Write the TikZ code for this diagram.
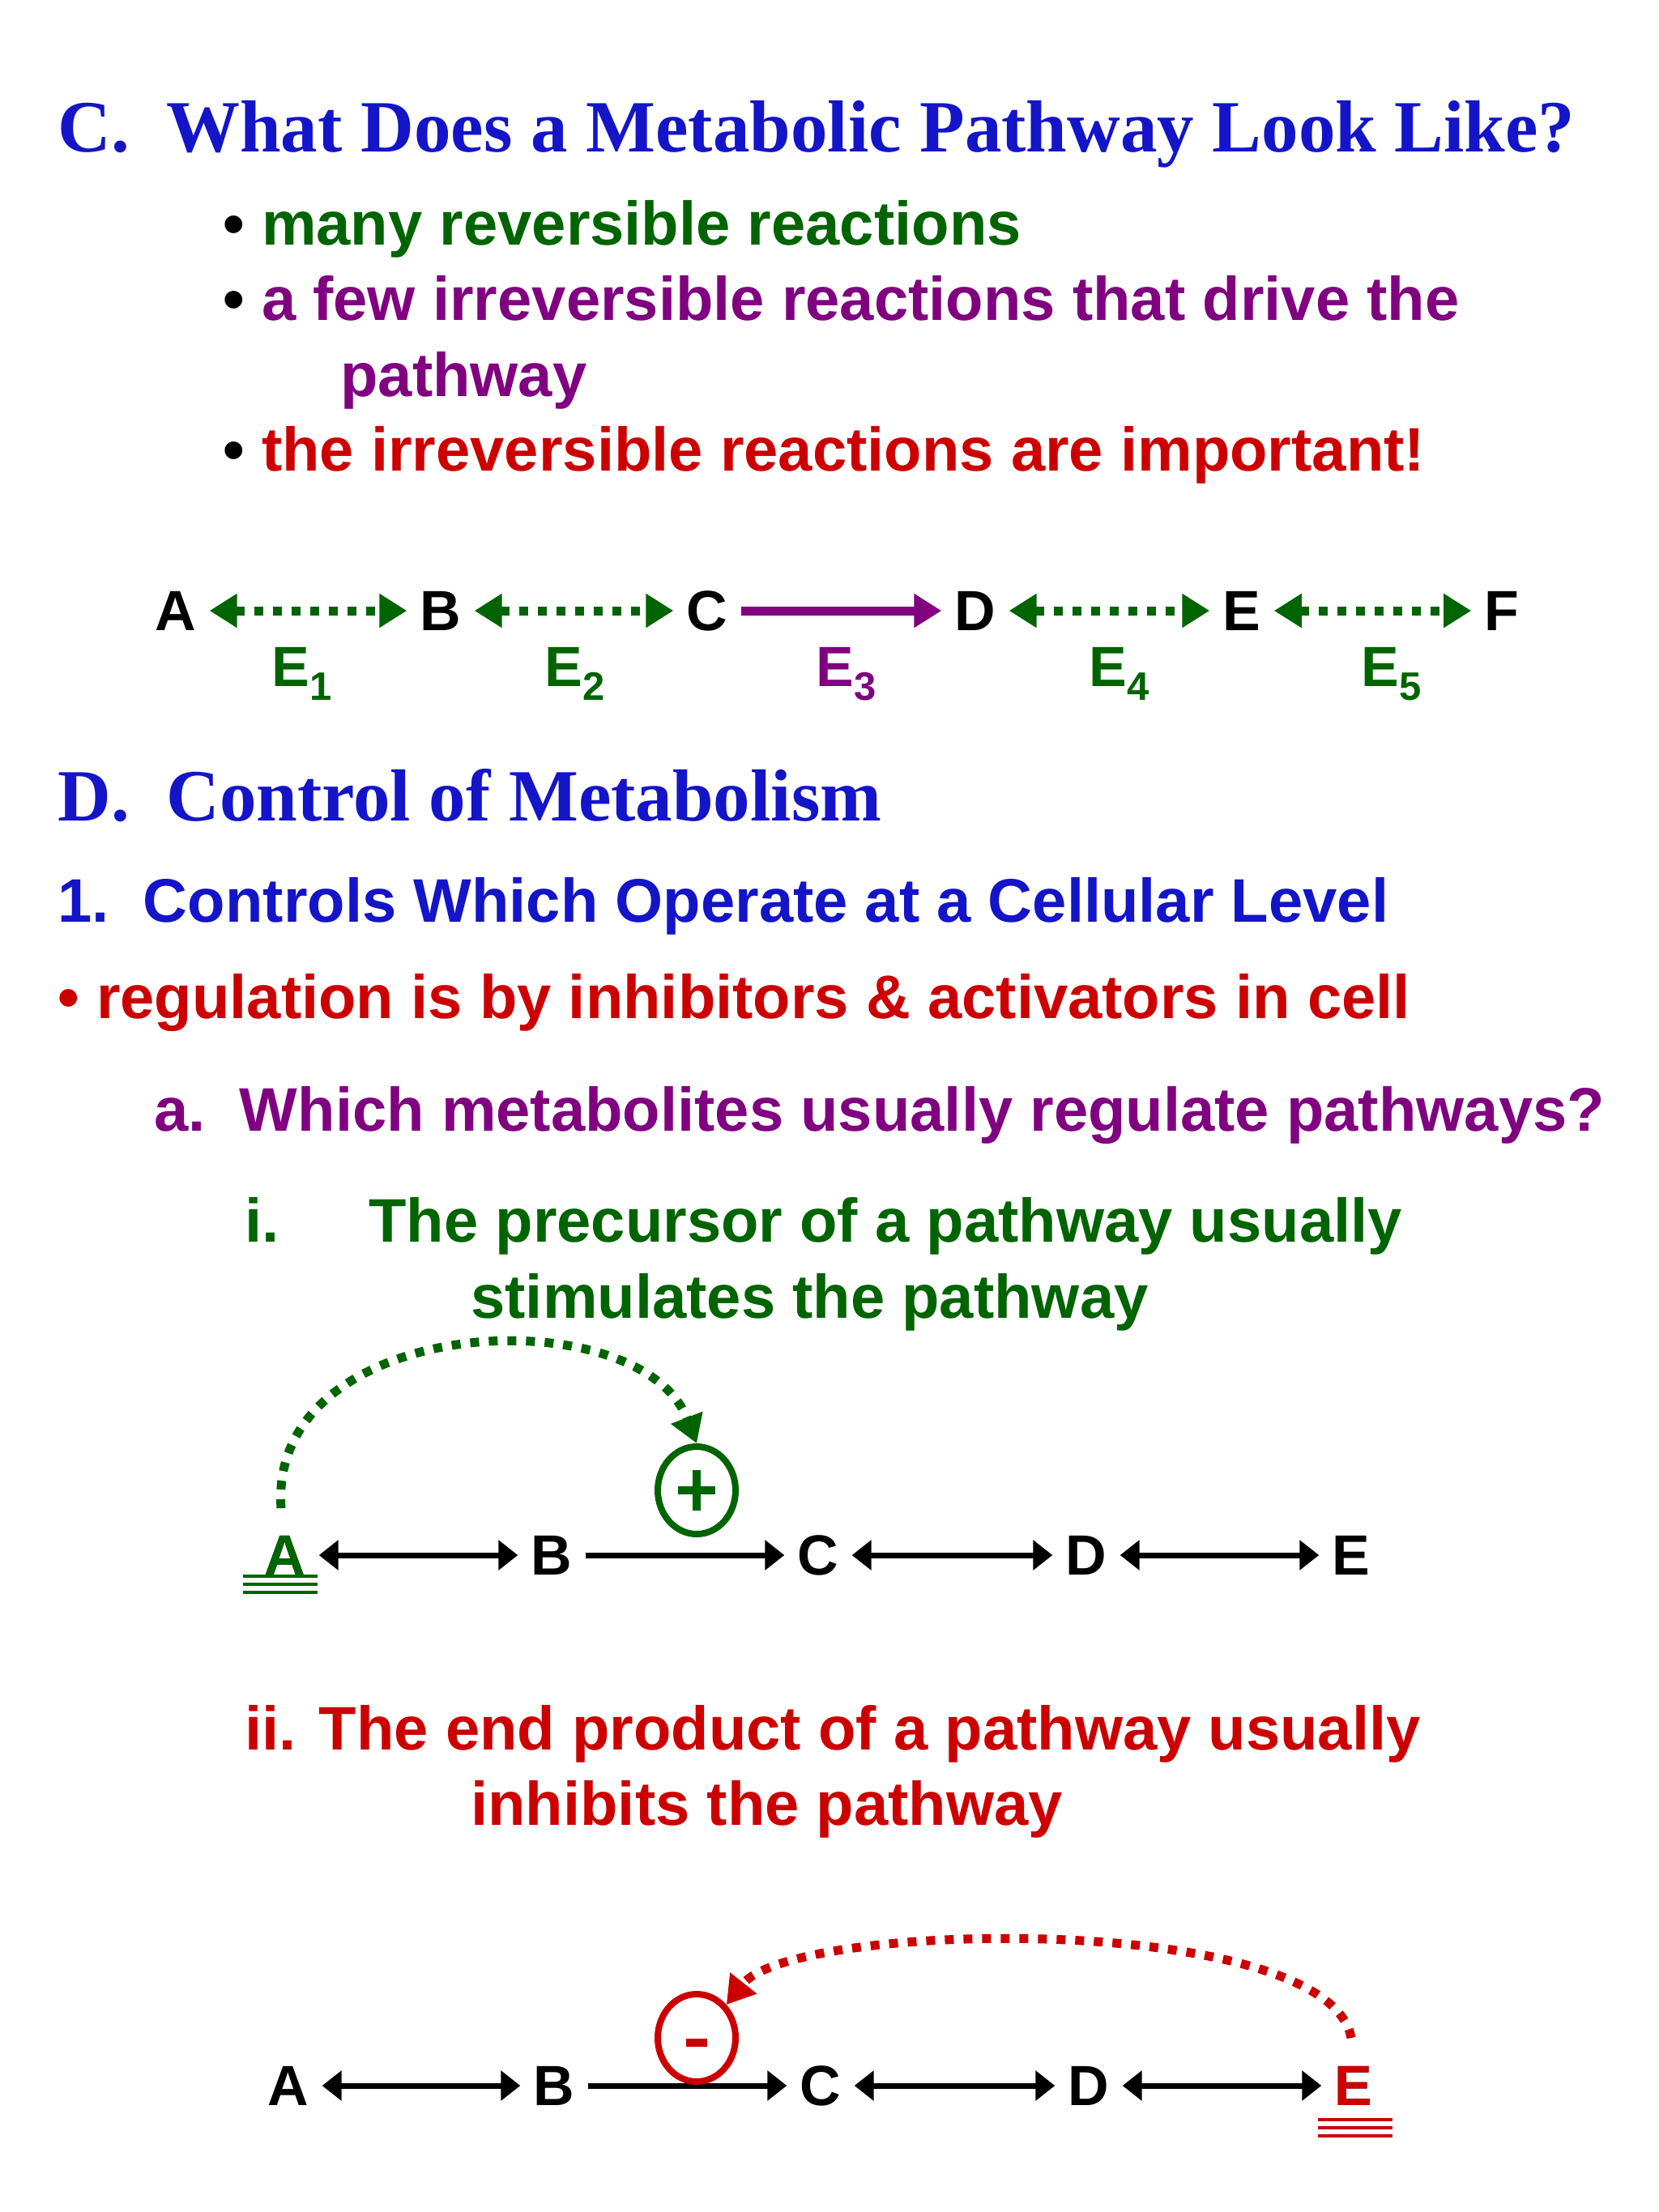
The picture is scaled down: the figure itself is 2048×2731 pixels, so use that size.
\documentclass[tikz,border=0pt]{standalone}
\usepackage{fontspec}
\setmainfont{Liberation Serif}
\setsansfont{Liberation Sans}
\usetikzlibrary{arrows.meta,shapes.geometric}
\definecolor{tblue}{RGB}{20,20,200}
\definecolor{tgreen}{RGB}{0,100,0}
\definecolor{tpurple}{RGB}{128,0,128}
\definecolor{tred}{RGB}{204,0,0}
\tikzset{
 hd/.style={anchor=base west,inner sep=0,font=\fontsize{45.5}{54}\selectfont\bfseries\rmfamily,text=tblue},
 tx/.style={anchor=base west,inner sep=0,font=\fontsize{38}{46}\selectfont\bfseries\sffamily},
 lt/.style={inner xsep=8pt,inner ysep=2pt,font=\fontsize{35}{42}\selectfont\bfseries\sffamily},
 el/.style={inner sep=0,font=\fontsize{35}{42}\selectfont\bfseries\sffamily},
 rev/.style={tgreen,line width=5.5pt,dash pattern=on 5.5pt off 6pt,{Triangle[length=17pt,width=20pt]}-{Triangle[length=17pt,width=20pt]}},
 irr/.style={tpurple,line width=5.5pt,-{Triangle[length=17pt,width=20pt]}},
 bk/.style={black,line width=3.5pt,-{Triangle[length=12pt,width=18pt]}},
 bkk/.style={black,line width=3.5pt,{Triangle[length=12pt,width=18pt]}-{Triangle[length=12pt,width=18pt]}},
 ring/.style={ellipse,draw,line width=4pt,minimum width=48pt,minimum height=54pt,inner sep=0},
}
\begin{document}
\begin{tikzpicture}[x=0.5pt,y=-0.5pt]
\useasboundingbox[fill=white] (0,0) rectangle (2048,2731);
% C
\node[hd] (hc) at (71,187) {C.\ \ What Does a Metabolic Pathway Look Like?};
\node[tx] (b1) at (275,302) {• \textcolor{tgreen}{many reversible reactions}};
\node[tx] (b2) at (275,395) {• \textcolor{tpurple}{a few irreversible reactions that drive the}};
\node[tx,text=tpurple] (b2b) at (420,489) {pathway};
\node[tx] (b3) at (275,581) {• \textcolor{tred}{the irreversible reactions are important!}};
% pathway 1
\foreach \n/\x in {A/217,B/544,C/873,D/1204,E/1533,F/1854}{\node[lt] (p\n) at (\x,754) {\n};}
\draw[rev] (pA) -- (pB);
\draw[rev] (pB) -- (pC);
\draw[irr] (pC) -- (pD);
\draw[rev] (pD) -- (pE);
\draw[rev] (pE) -- (pF);
\node[el,text=tgreen] (e1) at (373,832) {E\textsubscript{1}};
\node[el,text=tgreen] (e2) at (710,832) {E\textsubscript{2}};
\node[el,text=tpurple] (e3) at (1045,832) {E\textsubscript{3}};
\node[el,text=tgreen] (e4) at (1382,832) {E\textsubscript{4}};
\node[el,text=tgreen] (e5) at (1718,832) {E\textsubscript{5}};
% D
\node[hd] (hd1) at (71,1013) {D.\ \ Control of Metabolism};
\node[tx,text=tblue] (d1) at (71,1138) {1.\ \ Controls Which Operate at a Cellular Level};
\node[tx,text=tred] (d2) at (71,1257) {• regulation is by inhibitors \& activators in cell};
\node[tx,text=tpurple] (d3) at (190,1396) {a.\ \ Which metabolites usually regulate pathways?};
\node[tx,text=tgreen] (d4) at (302,1533) {i.};
\node[tx,text=tgreen] (d5) at (455,1533) {The precursor of a pathway usually};
\node[tx,text=tgreen] (d6) at (581,1627) {stimulates the pathway};
% diagram i
\foreach \n/\x in {A/352,B/681,C/1010,D/1341,E/1668}{\node[lt] (q\n) at (\x,1920) {\n};}
\node[lt,text=tgreen] at (qA) {A};
\draw[bkk] (qA) -- (qB);
\draw[bk] (qB) -- (qC);
\draw[bkk] (qC) -- (qD);
\draw[bkk] (qD) -- (qE);
\foreach \y in {1946,1956,1966}{\draw[tgreen,line width=2.2pt] (300,\y) -- (392,\y);}
\node[ring,draw=tgreen] (plus) at (860,1840) {};
\draw[tgreen,line width=5pt] (860,1815) -- (860,1865) (837,1840) -- (883,1840);
\draw[tgreen,line width=5.5pt,dash pattern=on 5.5pt off 6pt,-{Triangle[length=17pt,width=20pt]}] (347,1862) .. controls (330,1620) and (790,1600) .. (plus.north);
% ii
\node[tx,text=tred] (d7) at (302,2160) {ii. The end product of a pathway usually};
\node[tx,text=tred] (d8) at (581,2253) {inhibits the pathway};
\foreach \n/\x in {A/356,B/684,C/1013,D/1344,E/1671}{\node[lt] (r\n) at (\x,2575) {\n};}
\node[lt,text=tred] at (rE) {E};
\draw[bkk] (rA) -- (rB);
\draw[bk] (rB) -- (rC);
\draw[bkk] (rC) -- (rD);
\draw[bkk] (rD) -- (rE);
\foreach \y in {2617,2627,2637}{\draw[tred,line width=2.2pt] (1627,\y) -- (1719,\y);}
\node[ring,draw=tred] (minus) at (860,2516) {};
\draw[tred,line width=5pt] (847,2522) -- (873,2522);
\draw[tred,line width=5.5pt,dash pattern=on 5.5pt off 6pt,-{Triangle[length=17pt,width=20pt]}] (1668,2516) .. controls (1640,2360) and (980,2370) .. (minus.north east);
\end{tikzpicture}
\end{document}
